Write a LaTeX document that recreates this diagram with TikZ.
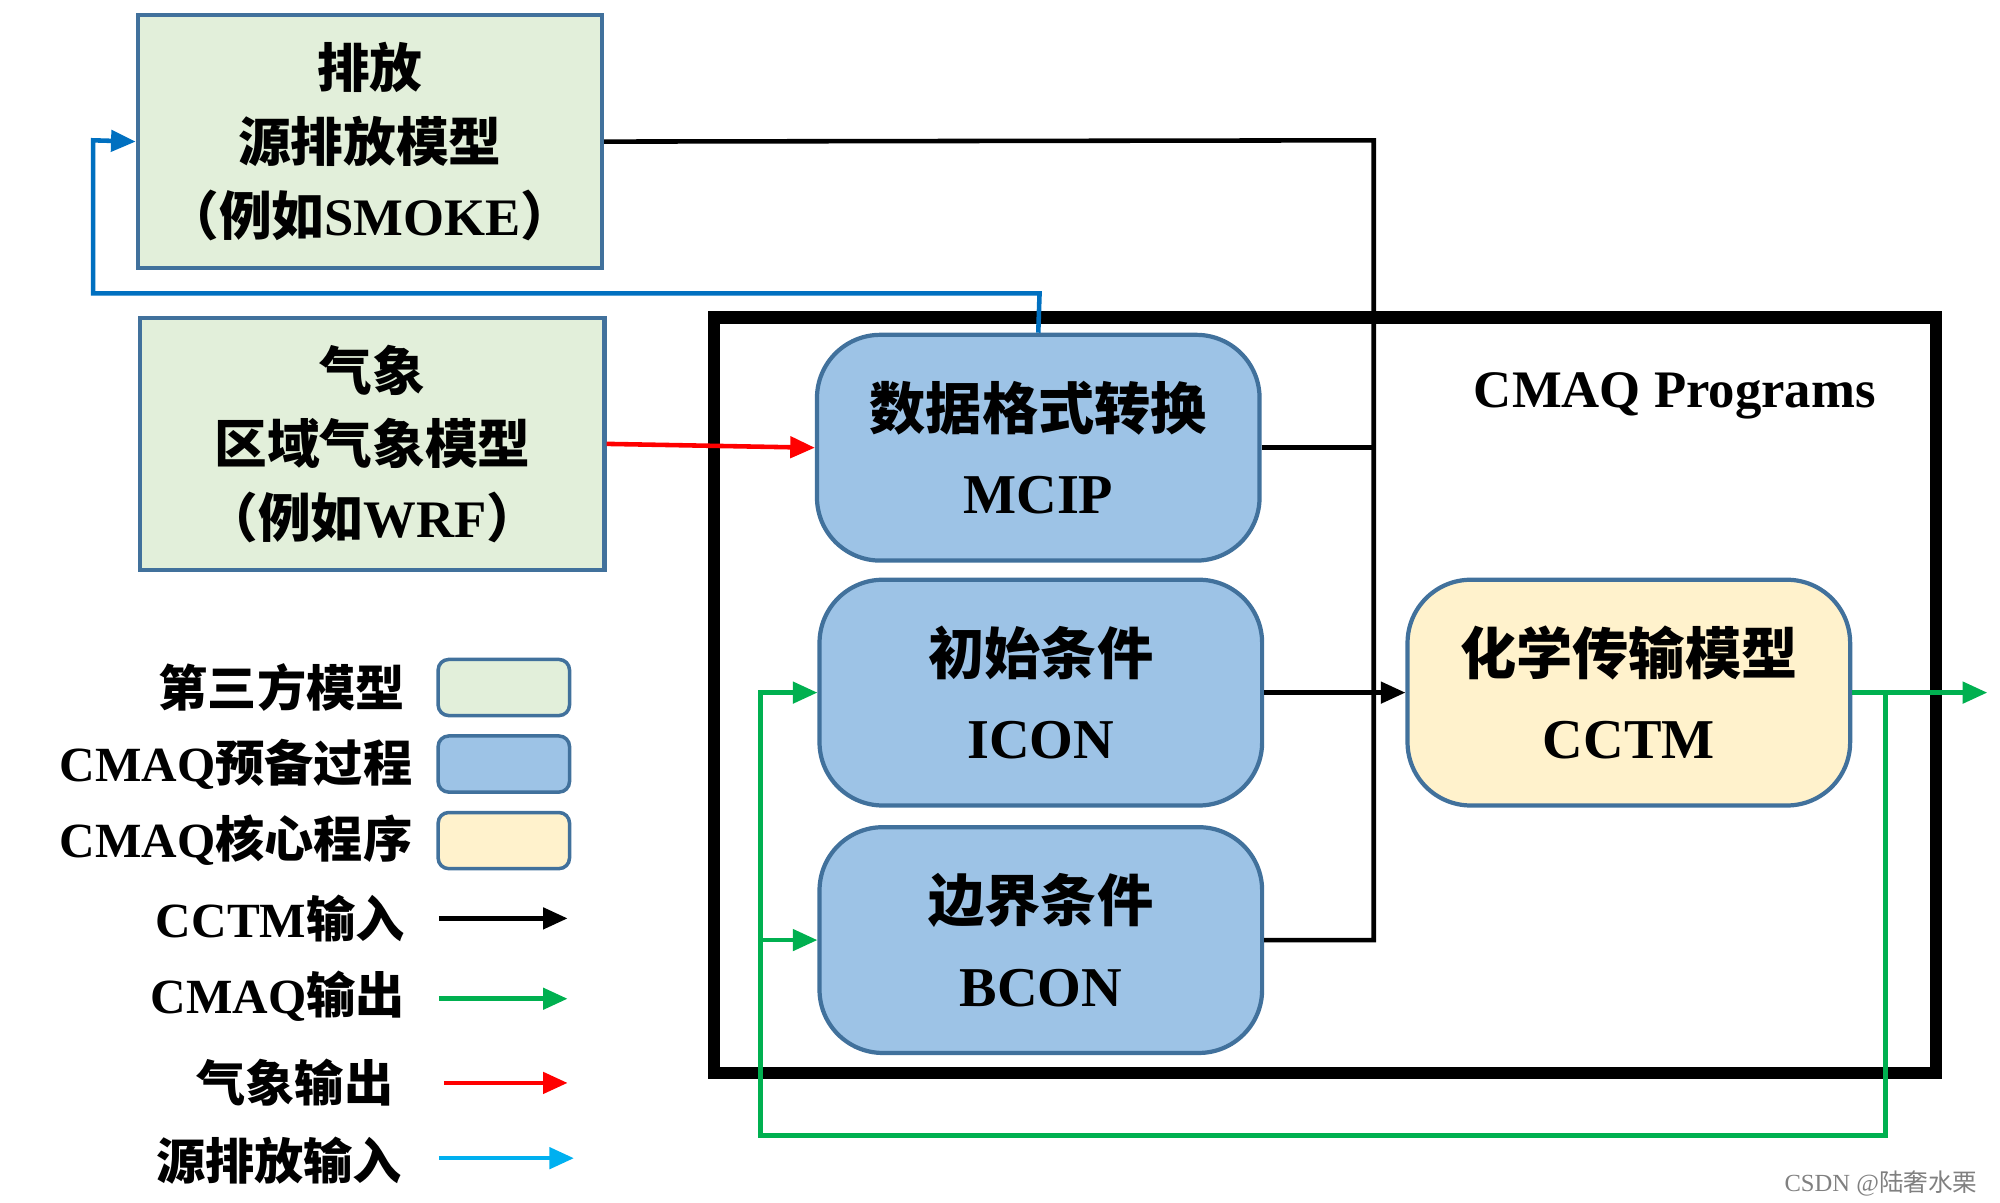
\documentclass[tikz,border=0pt]{standalone}
\usepackage{fontspec}
\setmainfont{Liberation Serif}
\newfontfamily\cjk{Noto Sans CJK SC}
\newcommand{\zh}[1]{{\cjk #1}}
\usetikzlibrary{arrows.meta}
\definecolor{tp}{HTML}{E2EFDA}
\definecolor{pre}{HTML}{9DC3E6}
\definecolor{core}{HTML}{FFF2CC}
\definecolor{bd}{HTML}{41719C}
\definecolor{gr}{HTML}{00B050}
\definecolor{bl}{HTML}{0070C0}
\definecolor{cy}{HTML}{00B0F0}
\begin{document}
\begin{tikzpicture}[x=0.012755cm,y=-0.012755cm,
  tpbox/.style={draw=bd,line width=1.2pt,fill=tp,minimum width=364*0.012755cm,minimum height=198*0.012755cm,align=center,font=\fontsize{15}{21}\selectfont\bfseries},
  rbox/.style={draw=bd,line width=1.2pt,rounded corners=18pt,minimum width=347*0.012755cm,minimum height=177*0.012755cm,align=center,font=\fontsize{16}{24}\selectfont\bfseries},
  leg/.style={anchor=east,font=\fontsize{14}{16}\selectfont\bfseries},
  legbox/.style={draw=bd,line width=1pt,rounded corners=3pt,minimum width=103*0.012755cm,minimum height=44*0.012755cm},
  ln/.style={line width=1.3pt},
  arr/.style={ln,-{Triangle[length=7pt,width=6pt]}}]
\useasboundingbox (0,0) rectangle (1568,943);
\node[tpbox] (emis) at (290,111) {\zh{排放}\\\zh{源排放模型}\\\zh{（例如}SMOKE\zh{）}};
\node[tpbox] (met) at (292,348) {\zh{气象}\\\zh{区域气象模型}\\\zh{（例如}WRF\zh{）}};
\draw[line width=3.5pt] (560,249) rectangle (1518,841);
\node[font=\fontsize{15}{18}\selectfont\bfseries] (prog) at (1313,310) {CMAQ Programs};
\node[rbox,fill=pre] (mcip) at (814,351) {\zh{数据格式转换}\\MCIP};
\node[rbox,fill=pre] (icon) at (816,543) {\zh{初始条件}\\ICON};
\node[rbox,fill=pre] (bcon) at (816,737) {\zh{边界条件}\\BCON};
\node[rbox,fill=core] (cctm) at (1277,543) {\zh{化学传输模型}\\CCTM};
\coordinate (j1) at (1077,110);
\coordinate (j2) at (1077,737);
\coordinate (out) at (1558,543);
% black
\draw[ln] (emis.east) -- (j1) -- (j2) -- (bcon.east);
\draw[ln] (mcip.east) -- (1077,351);
\draw[arr] (icon.east) -- (cctm.west);
% blue
\draw[arr,bl] (mcip.north) -- (815,230) -- (73,230) -- (73,110) -- (emis.west);
% red
\draw[arr,red] (met.east) -- (mcip.west);
% green
\draw[arr,gr] (cctm.east) -- (out);
\draw[arr,gr] (1478,543) -- (1478,890) -- (596,890) -- (596,543) -- (icon.west);
\draw[arr,gr] (596,737) -- (bcon.west);
% legend
\node[leg] (l1) at (327,539) {\zh{第三方模型}};
\node[legbox,fill=tp] (b1) at (395,539) {};
\node[leg] (l2) at (333,599) {CMAQ\zh{预备过程}};
\node[legbox,fill=pre] (b2) at (395,599) {};
\node[leg] (l3) at (333,659) {CMAQ\zh{核心程序}};
\node[legbox,fill=core] (b3) at (395,659) {};
\node[leg] (l4) at (327,720) {CCTM\zh{输入}};
\coordinate (a4s) at (344,720); \coordinate (a4e) at (445,720);
\draw[arr] (a4s) -- (a4e);
\node[leg] (l5) at (327,781) {CMAQ\zh{输出}};
\coordinate (a5s) at (344,783); \coordinate (a5e) at (445,783);
\draw[arr,gr] (a5s) -- (a5e);
\node[leg] (l6) at (318,849) {\zh{气象输出}};
\coordinate (a6s) at (348,849); \coordinate (a6e) at (445,849);
\draw[arr,red] (a6s) -- (a6e);
\node[leg] (l7) at (325,910) {\zh{源排放输入}};
\coordinate (a7s) at (344,908); \coordinate (a7e) at (450,908);
\draw[arr,cy] (a7s) -- (a7e);
\node[anchor=east,text=gray,font=\fontsize{7}{8}\selectfont] (wm) at (1560,928) {CSDN @\zh{陆奢水栗}};
\end{tikzpicture}
\end{document}
